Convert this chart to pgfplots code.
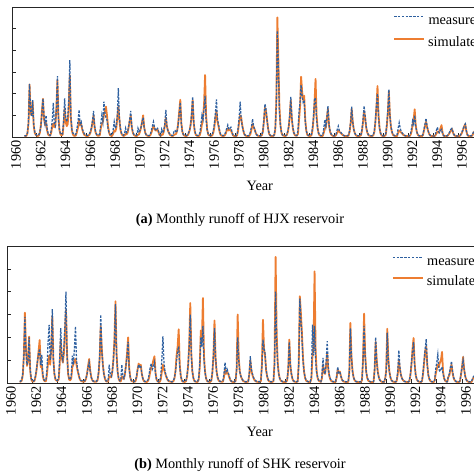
\documentclass[border=0pt]{standalone}
\usepackage{fontspec}
\setmainfont{Liberation Serif}
\usepackage{pgfplots}
\usepackage{pgfplotstable}
\pgfplotsset{compat=1.18}

\definecolor{measblue}{RGB}{46,96,160}
\definecolor{simorange}{RGB}{237,125,49}
\newcommand{\chartfont}{\fontsize{14.3}{16}\selectfont}

% Monthly runoff, one line per year (Jan..Dec), columns: measured simulated
\pgfplotstableread[row sep=\\]{
meas sim\\
0.06 0.04\\0.05 0.04\\0.08 0.06\\0.20 0.18\\0.70 0.65\\2.45 2.42\\1.20 1.10\\0.95 1.00\\1.70 1.62\\0.60 0.55\\0.25 0.20\\0.12 0.10\\
0.08 0.06\\0.07 0.05\\0.10 0.07\\0.25 0.20\\0.50 0.55\\1.10 1.20\\1.78 1.76\\0.90 0.85\\0.60 0.55\\1.00 0.65\\0.40 0.30\\0.15 0.12\\
0.10 0.07\\0.08 0.06\\0.30 0.20\\0.80 0.50\\1.58 0.62\\0.60 0.45\\0.50 0.55\\1.30 1.35\\2.81 2.63\\0.80 0.90\\0.30 0.30\\0.15 0.12\\
0.12 0.08\\0.15 0.10\\0.80 0.60\\1.78 1.30\\0.90 0.70\\0.70 0.50\\0.90 0.60\\1.60 1.50\\3.55 2.86\\1.00 0.90\\0.35 0.30\\0.18 0.12\\
0.12 0.06\\0.10 0.05\\0.15 0.08\\0.40 0.25\\0.75 0.45\\1.25 0.78\\0.60 0.55\\0.70 0.60\\0.40 0.35\\0.25 0.20\\0.15 0.10\\0.10 0.07\\
0.08 0.05\\0.07 0.04\\0.10 0.06\\0.15 0.10\\0.25 0.20\\0.45 0.40\\0.75 0.70\\1.20 1.00\\0.50 0.45\\0.25 0.20\\0.12 0.10\\0.08 0.06\\
0.10 0.06\\0.15 0.08\\0.60 0.40\\1.00 0.60\\0.70 0.70\\1.63 1.00\\1.10 1.20\\0.90 1.40\\0.80 1.00\\0.40 0.50\\0.20 0.20\\0.12 0.08\\
0.10 0.06\\0.10 0.05\\0.35 0.15\\0.70 0.30\\0.40 0.25\\0.50 0.40\\1.00 0.90\\2.25 1.40\\0.90 0.80\\0.40 0.35\\0.18 0.15\\0.10 0.08\\
0.08 0.05\\0.15 0.06\\0.40 0.15\\0.20 0.12\\0.25 0.20\\0.50 0.45\\0.80 0.75\\1.20 1.00\\0.50 0.45\\0.25 0.20\\0.12 0.10\\0.08 0.06\\
0.08 0.05\\0.10 0.05\\0.40 0.10\\0.25 0.12\\0.30 0.25\\0.45 0.45\\0.70 0.70\\0.90 1.00\\0.45 0.45\\0.20 0.20\\0.10 0.10\\0.07 0.06\\
0.07 0.05\\0.07 0.05\\0.12 0.08\\0.30 0.20\\0.50 0.35\\0.70 0.50\\0.45 0.40\\0.30 0.30\\0.35 0.30\\0.40 0.35\\0.25 0.20\\0.10 0.08\\
0.08 0.05\\0.35 0.10\\0.20 0.10\\0.30 0.25\\0.60 0.50\\1.25 0.90\\0.50 0.50\\0.30 0.30\\0.20 0.18\\0.12 0.10\\0.08 0.07\\0.07 0.05\\
0.08 0.05\\0.30 0.10\\0.30 0.12\\0.20 0.15\\0.30 0.30\\0.60 0.65\\1.10 1.20\\1.60 1.72\\0.60 0.65\\0.25 0.25\\0.12 0.10\\0.08 0.06\\
0.07 0.05\\0.07 0.05\\0.10 0.07\\0.20 0.15\\0.30 0.30\\0.60 0.55\\1.10 1.00\\1.86 1.70\\0.70 0.65\\0.30 0.25\\0.12 0.10\\0.08 0.06\\
0.07 0.05\\0.08 0.05\\0.20 0.10\\0.60 0.30\\1.00 0.60\\0.80 0.90\\1.30 1.50\\1.90 2.86\\0.80 1.00\\0.35 0.35\\0.15 0.12\\0.08 0.07\\
0.08 0.06\\0.08 0.05\\0.12 0.08\\0.30 0.20\\0.60 0.45\\1.10 0.90\\1.74 1.20\\0.80 0.70\\0.60 0.50\\0.30 0.25\\0.12 0.10\\0.08 0.06\\
0.07 0.05\\0.07 0.05\\0.10 0.07\\0.25 0.15\\0.40 0.30\\0.55 0.40\\0.35 0.30\\0.40 0.35\\0.45 0.30\\0.25 0.20\\0.10 0.08\\0.07 0.05\\
0.06 0.05\\0.06 0.04\\0.10 0.07\\0.40 0.30\\0.90 0.70\\1.63 1.00\\0.80 0.90\\0.50 0.55\\0.30 0.30\\0.15 0.12\\0.08 0.07\\0.06 0.05\\
0.06 0.05\\0.06 0.04\\0.10 0.06\\0.25 0.15\\0.50 0.35\\0.83 0.60\\0.50 0.45\\0.35 0.35\\0.20 0.20\\0.10 0.10\\0.07 0.06\\0.06 0.05\\
0.06 0.05\\0.06 0.05\\0.10 0.08\\0.30 0.25\\0.80 0.75\\1.52 1.35\\1.30 1.20\\0.80 0.80\\0.40 0.40\\0.18 0.15\\0.08 0.07\\0.06 0.05\\
0.06 0.05\\0.06 0.05\\0.10 0.08\\0.40 0.35\\1.50 1.60\\4.90 5.52\\3.20 3.50\\1.20 1.40\\0.50 0.55\\0.20 0.20\\0.10 0.08\\0.07 0.06\\
0.07 0.05\\0.07 0.05\\0.10 0.08\\0.25 0.20\\0.50 0.45\\1.00 0.95\\1.86 1.70\\0.90 0.85\\0.45 0.40\\0.20 0.18\\0.10 0.08\\0.07 0.06\\
0.08 0.06\\0.30 0.15\\1.20 0.80\\1.60 1.40\\2.40 2.78\\1.90 2.10\\1.60 1.70\\1.70 1.90\\0.70 0.80\\0.30 0.30\\0.12 0.10\\0.08 0.06\\
0.07 0.05\\0.07 0.05\\0.12 0.08\\0.40 0.30\\0.90 0.80\\1.80 1.60\\1.75 2.68\\0.80 1.00\\0.40 0.40\\0.18 0.15\\0.08 0.07\\0.07 0.05\\
0.07 0.05\\0.08 0.05\\0.40 0.20\\0.80 0.40\\0.50 0.45\\0.90 0.90\\1.43 1.30\\0.60 0.55\\0.30 0.25\\0.15 0.12\\0.08 0.07\\0.06 0.05\\
0.06 0.05\\0.06 0.05\\0.15 0.10\\0.35 0.20\\0.50 0.30\\0.30 0.25\\0.25 0.20\\0.18 0.15\\0.12 0.10\\0.08 0.07\\0.06 0.05\\0.05 0.04\\
0.05 0.04\\0.06 0.04\\0.10 0.07\\0.30 0.25\\0.70 0.65\\1.40 1.30\\0.70 0.70\\0.35 0.35\\0.18 0.18\\0.10 0.08\\0.07 0.05\\0.06 0.05\\
0.06 0.05\\0.06 0.05\\0.12 0.08\\0.35 0.30\\0.80 0.70\\1.43 1.20\\1.00 0.90\\0.50 0.45\\0.25 0.22\\0.12 0.10\\0.07 0.06\\0.06 0.05\\
0.06 0.05\\0.06 0.05\\0.10 0.08\\0.30 0.25\\0.80 0.70\\1.50 1.40\\2.00 2.35\\0.90 1.00\\0.40 0.40\\0.18 0.15\\0.08 0.07\\0.06 0.05\\
0.06 0.05\\0.07 0.05\\0.15 0.10\\0.60 0.50\\1.20 1.10\\2.20 2.10\\1.00 1.00\\0.50 0.45\\0.25 0.22\\0.12 0.10\\0.08 0.06\\0.06 0.05\\
0.06 0.04\\0.10 0.05\\0.40 0.20\\0.66 0.30\\0.40 0.25\\0.25 0.20\\0.18 0.15\\0.12 0.10\\0.08 0.07\\0.06 0.05\\0.05 0.04\\0.05 0.04\\
0.05 0.04\\0.06 0.04\\0.15 0.10\\0.40 0.25\\0.75 0.55\\0.60 0.80\\1.00 1.28\\0.50 0.55\\0.25 0.25\\0.12 0.10\\0.07 0.06\\0.05 0.04\\
0.05 0.04\\0.06 0.04\\0.12 0.08\\0.35 0.30\\0.60 0.50\\0.86 0.70\\0.50 0.45\\0.30 0.28\\0.15 0.14\\0.08 0.07\\0.06 0.05\\0.05 0.04\\
0.05 0.04\\0.05 0.04\\0.10 0.07\\0.30 0.15\\0.45 0.25\\0.25 0.20\\0.20 0.25\\0.30 0.40\\0.35 0.55\\0.15 0.20\\0.07 0.06\\0.05 0.04\\
0.05 0.04\\0.05 0.04\\0.08 0.06\\0.15 0.12\\0.25 0.20\\0.35 0.30\\0.40 0.38\\0.25 0.22\\0.12 0.10\\0.07 0.06\\0.05 0.04\\0.05 0.04\\
0.05 0.04\\0.05 0.04\\0.08 0.06\\0.15 0.12\\0.25 0.22\\0.40 0.35\\0.50 0.50\\0.60 0.60\\0.30 0.28\\0.12 0.10\\0.06 0.05\\0.05 0.04\\
0.05 0.04\\0.06 0.04\\0.10 0.08\\0.25 0.20\\0.30 0.25\\0.35 0.30\\0.30 0.25\\0.20 0.18\\0.12 0.10\\0.07 0.06\\0.05 0.04\\0.05 0.04\\
}\hjx

\pgfplotstableread[row sep=\\]{
meas sim\\
0.08 0.06\\0.08 0.06\\0.15 0.10\\0.40 0.35\\1.20 1.20\\2.90 3.08\\1.40 1.50\\0.80 0.75\\1.00 0.95\\2.00 2.03\\0.60 0.55\\0.20 0.15\\
0.10 0.08\\0.08 0.06\\0.12 0.08\\0.30 0.25\\0.60 0.55\\1.00 0.95\\1.30 1.40\\1.50 1.88\\0.80 0.70\\1.23 0.80\\0.40 0.30\\0.15 0.12\\
0.10 0.08\\0.12 0.08\\0.60 0.40\\1.80 0.90\\2.54 1.20\\1.00 0.80\\1.40 1.50\\3.24 2.93\\1.00 1.10\\0.40 0.40\\0.18 0.15\\0.12 0.10\\
0.12 0.10\\0.20 0.15\\1.00 0.80\\2.40 1.90\\1.20 1.10\\1.00 0.90\\1.50 1.30\\2.50 2.20\\4.00 3.20\\1.20 1.30\\0.45 0.40\\0.20 0.15\\
0.15 0.12\\0.30 0.20\\1.20 0.70\\0.80 0.80\\1.50 1.00\\2.48 1.05\\1.00 0.80\\0.60 0.55\\0.40 0.35\\0.20 0.18\\0.12 0.10\\0.10 0.08\\
0.08 0.06\\0.08 0.06\\0.12 0.08\\0.20 0.18\\0.40 0.40\\0.70 0.75\\0.90 1.05\\0.50 0.55\\0.25 0.25\\0.12 0.12\\0.08 0.07\\0.07 0.06\\
0.07 0.06\\0.08 0.06\\0.15 0.12\\0.50 0.45\\1.20 1.10\\2.99 2.50\\1.40 1.50\\0.80 0.80\\0.40 0.40\\0.20 0.18\\0.10 0.08\\0.08 0.06\\
0.10 0.07\\0.80 0.30\\0.40 0.25\\0.30 0.25\\0.50 0.50\\1.00 1.00\\1.80 1.90\\3.45 3.58\\1.20 1.30\\0.50 0.50\\0.20 0.18\\0.10 0.08\\
0.10 0.07\\0.80 0.30\\0.30 0.20\\0.20 0.18\\0.40 0.40\\0.80 0.80\\1.20 1.30\\1.80 2.00\\0.60 0.65\\0.25 0.25\\0.12 0.10\\0.08 0.07\\
0.07 0.06\\0.07 0.05\\0.12 0.08\\0.30 0.25\\0.60 0.60\\0.80 0.85\\0.70 0.75\\0.75 0.80\\0.40 0.40\\0.20 0.18\\0.10 0.08\\0.07 0.06\\
0.07 0.05\\0.08 0.05\\0.15 0.10\\0.40 0.25\\0.70 0.50\\0.85 0.70\\0.60 0.80\\0.70 1.00\\0.90 1.17\\0.40 0.45\\0.15 0.15\\0.08 0.07\\
0.07 0.05\\0.08 0.05\\0.30 0.15\\1.00 0.50\\2.04 0.80\\0.90 0.60\\0.50 0.45\\0.35 0.30\\0.20 0.18\\0.12 0.10\\0.08 0.07\\0.07 0.06\\
0.06 0.05\\0.06 0.05\\0.10 0.08\\0.25 0.20\\0.50 0.55\\1.00 1.20\\1.40 1.60\\1.60 2.35\\0.70 0.80\\0.30 0.30\\0.12 0.10\\0.08 0.06\\
0.07 0.05\\0.07 0.05\\0.12 0.08\\0.35 0.30\\0.80 0.80\\1.60 1.70\\3.00 3.50\\1.20 1.30\\0.50 0.50\\0.22 0.20\\0.10 0.08\\0.07 0.06\\
0.07 0.05\\0.07 0.05\\0.20 0.15\\0.80 0.70\\2.00 2.30\\1.60 1.80\\2.50 3.72\\1.00 1.20\\0.45 0.50\\0.20 0.20\\0.10 0.08\\0.07 0.06\\
0.07 0.05\\0.07 0.05\\0.15 0.10\\0.50 0.45\\1.20 1.20\\2.40 2.74\\1.10 1.10\\0.50 0.50\\0.25 0.22\\0.12 0.10\\0.08 0.07\\0.07 0.06\\
0.07 0.05\\0.10 0.06\\0.40 0.25\\0.90 0.60\\0.50 0.40\\0.60 0.50\\0.45 0.40\\0.30 0.25\\0.15 0.12\\0.08 0.07\\0.06 0.05\\0.06 0.05\\
0.06 0.05\\0.10 0.08\\0.60 0.60\\2.00 3.00\\1.00 1.10\\0.50 0.50\\0.30 0.30\\0.20 0.18\\0.12 0.10\\0.08 0.07\\0.06 0.05\\0.06 0.05\\
0.06 0.05\\0.08 0.06\\0.40 0.35\\1.17 1.00\\0.60 0.55\\0.40 0.35\\0.25 0.22\\0.15 0.12\\0.10 0.08\\0.07 0.06\\0.06 0.05\\0.06 0.05\\
0.06 0.05\\0.10 0.08\\0.70 0.80\\1.90 2.77\\1.50 1.50\\1.30 1.20\\0.60 0.55\\0.30 0.28\\0.15 0.12\\0.08 0.07\\0.06 0.05\\0.06 0.05\\
0.06 0.05\\0.10 0.08\\0.80 0.90\\4.00 5.52\\1.80 2.20\\0.80 0.90\\0.40 0.40\\0.20 0.18\\0.12 0.10\\0.08 0.07\\0.06 0.05\\0.06 0.05\\
0.06 0.05\\0.07 0.05\\0.15 0.12\\0.60 0.60\\1.80 1.90\\0.80 0.80\\0.40 0.40\\0.20 0.18\\0.10 0.08\\0.07 0.06\\0.06 0.05\\0.06 0.05\\
0.08 0.06\\0.80 0.90\\3.70 3.80\\2.80 3.07\\2.00 2.20\\1.00 1.10\\0.50 0.50\\0.25 0.22\\0.12 0.10\\0.08 0.07\\0.06 0.05\\0.06 0.05\\
0.06 0.05\\0.30 0.20\\2.56 1.20\\1.20 1.60\\2.50 4.89\\1.00 1.40\\0.45 0.50\\0.22 0.20\\0.12 0.10\\0.08 0.07\\0.06 0.05\\0.30 0.20\\
1.10 0.80\\0.50 0.45\\0.40 0.40\\0.90 0.80\\1.83 1.30\\0.70 0.60\\0.35 0.30\\0.18 0.15\\0.10 0.08\\0.07 0.06\\0.06 0.05\\0.06 0.05\\
0.06 0.05\\0.30 0.25\\0.70 0.60\\0.45 0.45\\0.50 0.50\\0.30 0.30\\0.15 0.15\\0.10 0.08\\0.07 0.06\\0.06 0.05\\0.05 0.04\\0.05 0.04\\
0.06 0.05\\0.50 0.50\\2.40 2.63\\1.10 1.20\\0.50 0.55\\0.25 0.25\\0.12 0.12\\0.08 0.07\\0.06 0.05\\0.05 0.05\\0.05 0.04\\0.05 0.04\\
0.05 0.04\\0.15 0.12\\1.00 1.00\\2.50 3.04\\1.20 1.30\\0.50 0.50\\0.25 0.22\\0.12 0.10\\0.08 0.07\\0.06 0.05\\0.05 0.04\\0.05 0.04\\
0.06 0.05\\0.60 0.55\\2.00 1.80\\0.90 1.00\\0.45 0.50\\0.25 0.25\\0.12 0.12\\0.08 0.07\\0.06 0.05\\0.05 0.05\\0.05 0.04\\0.20 0.18\\
0.50 0.55\\2.20 2.37\\1.00 1.10\\0.50 0.50\\0.25 0.25\\0.12 0.12\\0.08 0.07\\0.06 0.05\\0.05 0.05\\0.05 0.04\\0.12 0.10\\0.50 0.40\\
1.43 1.00\\0.70 0.60\\0.35 0.35\\0.20 0.20\\0.12 0.12\\0.08 0.08\\0.06 0.06\\0.05 0.05\\0.05 0.04\\0.05 0.04\\0.10 0.08\\0.40 0.35\\
0.90 0.80\\1.40 1.50\\1.80 1.97\\0.80 0.85\\0.35 0.35\\0.18 0.16\\0.10 0.08\\0.06 0.06\\0.05 0.05\\0.05 0.04\\0.10 0.08\\0.50 0.40\\
1.00 0.90\\1.50 1.40\\1.93 1.60\\0.80 0.80\\0.35 0.35\\0.18 0.16\\0.10 0.08\\0.06 0.06\\0.05 0.05\\0.05 0.04\\0.12 0.10\\0.60 0.40\\
0.90 0.60\\1.25 0.80\\0.60 0.70\\0.50 0.90\\0.60 1.00\\0.70 1.36\\0.40 0.50\\0.20 0.20\\0.10 0.10\\0.06 0.06\\0.06 0.05\\0.30 0.25\\
0.40 0.35\\0.70 0.60\\0.95 0.80\\0.50 0.45\\0.25 0.22\\0.12 0.12\\0.08 0.07\\0.06 0.05\\0.05 0.05\\0.05 0.04\\0.10 0.08\\0.40 0.35\\
0.70 0.70\\1.00 1.14\\0.60 0.60\\0.30 0.30\\0.15 0.15\\0.08 0.08\\0.06 0.05\\0.05 0.05\\0.05 0.04\\0.06 0.05\\0.20 0.15\\0.30 0.25\\
0.30 0.25\\0.25 0.20\\0.15 0.12\\0.10 0.08\\
}\shk

\pgfplotsset{
  runoff/.style={
    scale only axis,
    xmin=1960, xmax=2000, ymin=0, ymax=6,
    xtick={1960,1962,...,1998},
    ytick={1,2,3,4,5}, yticklabels={},
    tick pos=left, tick align=inside, major tick length=4pt,
    tick style={black!85, line width=0.6pt},
    axis line style={black!85, line width=0.8pt},
    /pgf/number format/1000 sep={},
    /pgf/number format/assume math mode=true,
    xticklabel style={rotate=90, anchor=east, font=\chartfont, yshift=-4pt},
    xlabel={Year}, xlabel style={font=\chartfont, yshift=-5pt},
    legend style={draw=none, fill=none, inner sep=0pt, font=\chartfont,
      anchor=north west,
      nodes={inner sep=1pt, text height=9.5pt, text depth=2.5pt},
      /tikz/every odd column/.append style={column sep=2pt}},
    legend image code/.code={\draw[##1] (0pt,4pt) -- (30pt,4pt);},
    reverse legend,
  },
  simline/.style={color=simorange, line width=1.8pt, line join=round},
  measline/.style={color=measblue, line width=1.25pt, dash pattern=on 2.4pt off 1.4pt},
}

\begin{document}
\begin{tikzpicture}
\path[use as bounding box] (0pt,0pt) rectangle (474pt,-474pt);
\clip (0pt,0pt) rectangle (474pt,-474pt);

% (a) HJX reservoir
\begin{axis}[runoff,
  at={(12pt,-137pt)}, anchor=south west,
  width=495.6pt, height=130pt,
  legend style={at={(0.769,0.95)}, /tikz/row sep=8pt}]
  \addplot[simline] table[x expr=1961+\coordindex/12, y=sim] {\hjx};
  \addlegendentry{simulated}
  \addplot[measline] table[x expr=1961+\coordindex/12, y=meas] {\hjx};
  \addlegendentry{measured}
\end{axis}
\node[font=\chartfont] at (240pt,-220pt) {\textbf{(a)} Monthly runoff of HJX reservoir};

% (b) SHK reservoir
\begin{axis}[runoff,
  at={(7pt,-383pt)}, anchor=south west,
  width=505.6pt, height=137pt,
  legend style={at={(0.761,0.938)}, /tikz/row sep=6pt}]
  \addplot[simline] table[x expr=1961+\coordindex/12, y=sim] {\shk};
  \addlegendentry{simulated}
  \addplot[measline] table[x expr=1961+\coordindex/12, y=meas] {\shk};
  \addlegendentry{measured}
\end{axis}
\node[font=\chartfont] at (240pt,-465pt) {\textbf{(b)} Monthly runoff of SHK reservoir};
\end{tikzpicture}
\end{document}
